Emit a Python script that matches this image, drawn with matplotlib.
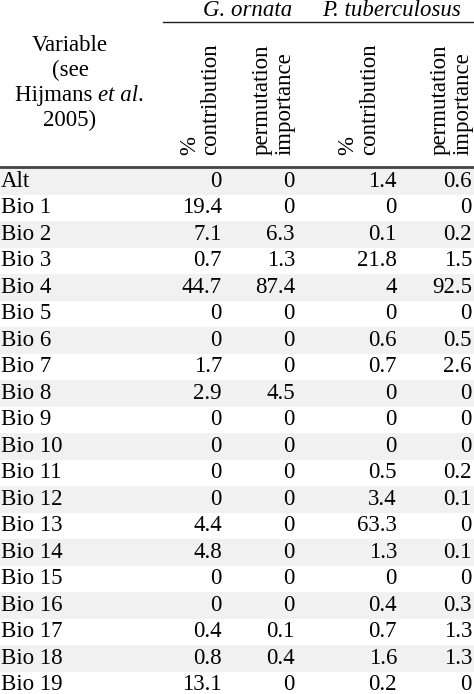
import matplotlib.pyplot as plt
from matplotlib.patches import Rectangle

plt.rcParams['font.family'] = ['Liberation Serif', 'DejaVu Serif']

variables = ['Alt'] + ['Bio %d' % i for i in range(1, 20)]
go_contrib = [0, 19.4, 7.1, 0.7, 44.7, 0, 0, 1.7, 2.9, 0, 0, 0, 0, 4.4, 4.8, 0, 0, 0.4, 0.8, 13.1]
go_perm = [0, 0, 6.3, 1.3, 87.4, 0, 0, 0, 4.5, 0, 0, 0, 0, 0, 0, 0, 0, 0.1, 0.4, 0]
pt_contrib = [1.4, 0, 0.1, 21.8, 4, 0, 0.6, 0.7, 0, 0, 0, 0.5, 3.4, 63.3, 1.3, 0, 0.4, 0.7, 1.6, 0.2]
pt_perm = [0.6, 0, 0.2, 1.5, 92.5, 0, 0.5, 2.6, 0, 0, 0, 0.2, 0.1, 0, 0.1, 0, 0.3, 1.3, 1.3, 0]

W, H = 474, 694
fig = plt.figure(figsize=(W / 100, H / 100), dpi=100)
ax = fig.add_axes([0, 0, 1, 1])
ax.set_xlim(0, W)
ax.set_ylim(H, 0)
ax.axis('off')

fs = 16.5
top = 168
rh = 26.5
col_right = [222, 295, 397, 472]

for i, name in enumerate(variables):
    y0 = top + i * rh
    if i % 2 == 0:
        ax.add_patch(Rectangle((0, y0), W, rh, color='#f1f1f1', lw=0))
    yc = y0 + rh / 2
    ax.text(1, yc, name, fontsize=fs, va='center', ha='left')
    for x, col in zip(col_right, [go_contrib, go_perm, pt_contrib, pt_perm]):
        ax.text(x, yc, '%g' % col[i], fontsize=fs, va='center', ha='right')

# header
ax.plot([0, W], [top - 1, top - 1], color='#444444', lw=2)
ax.plot([163, W], [22, 22], color='#222222', lw=1)
ax.text(248, 10, 'G. ornata', fontsize=fs, style='italic', ha='center', va='center')
ax.text(392, 10, 'P. tuberculosus', fontsize=fs, style='italic', ha='center', va='center')

ax.text(70, 45, 'Variable', fontsize=fs, ha='center', va='center')
ax.text(70, 70, '(see', fontsize=fs, ha='center', va='center')
ax.text(98, 95, 'Hijmans ', fontsize=fs, ha='right', va='center')
ax.text(98, 95, 'et al', fontsize=fs, style='italic', ha='left', va='center')
ax.text(138, 95, '.', fontsize=fs, ha='left', va='center')
ax.text(70, 120, '2005)', fontsize=fs, ha='center', va='center')

for x1, x2, t1, t2 in [(190, 211, '%', 'contribution'), (262, 285, 'permutation', 'importance'),
                        (348, 370, '%', 'contribution'), (440, 463, 'permutation', 'importance')]:
    ax.text(x1, 155, t1, fontsize=fs, rotation=90, ha='center', va='bottom')
    ax.text(x2, 155, t2, fontsize=fs, rotation=90, ha='center', va='bottom')

fig.savefig('out.png', dpi=100)
